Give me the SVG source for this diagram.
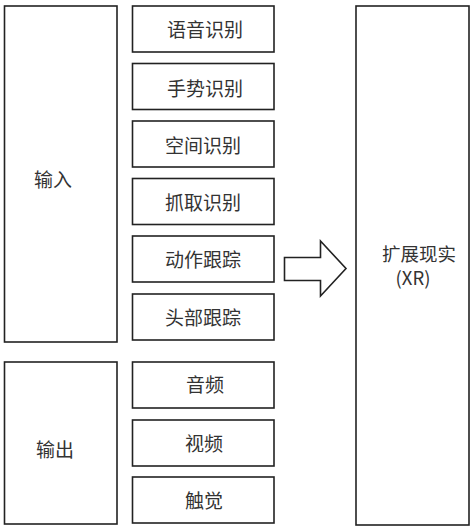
<svg xmlns="http://www.w3.org/2000/svg" width="474" height="530" viewBox="0 0 474 530">
<style>
rect{fill:#fff;stroke:#222;stroke-width:1.6}
text{font-family:"Noto Sans CJK SC","Noto Sans",sans-serif;font-size:19px;fill:#333;text-anchor:middle}
.xr{font-size:18.5px}
</style>
<rect x="0" y="0" width="474" height="530" style="stroke:none"/>
<g id="input"><rect x="4.5" y="6" width="112.5" height="336"/><text x="53" y="187">输入</text></g>
<g id="output"><rect x="4.5" y="362" width="112.5" height="162"/><text x="55" y="457">输出</text></g>
<g id="n1"><rect x="132.5" y="6" width="141.5" height="46"/><text x="205" y="37">语音识别</text></g>
<g id="n2"><rect x="132.5" y="63.5" width="141.5" height="46"/><text x="205" y="96">手势识别</text></g>
<g id="n3"><rect x="132.5" y="121" width="141.5" height="46"/><text x="203" y="153">空间识别</text></g>
<g id="n4"><rect x="132.5" y="178.5" width="141.5" height="46"/><text x="203" y="210">抓取识别</text></g>
<g id="n5"><rect x="132.5" y="236" width="141.5" height="46"/><text x="203" y="267">动作跟踪</text></g>
<g id="n6"><rect x="132.5" y="294" width="141.5" height="46"/><text x="203" y="325">头部跟踪</text></g>
<g id="o1"><rect x="132.5" y="362" width="141.5" height="46"/><text x="205" y="392">音频</text></g>
<g id="o2"><rect x="132.5" y="420" width="141.5" height="46"/><text x="204" y="451">视频</text></g>
<g id="o3"><rect x="132.5" y="477" width="141.5" height="46"/><text x="204" y="508">触觉</text></g>
<g id="xr"><rect x="356" y="6" width="113" height="519"/><text class="xr" x="419" y="261">扩展现实</text><text class="xr" x="413" y="285">(XR)</text></g>
<g id="connectors"><path d="M284.5 257.5H320.5V241L346 268.5L320.5 296V280.5H284.5Z" fill="#fff" stroke="#222" stroke-width="1.6" stroke-linejoin="miter"/></g>
</svg>
